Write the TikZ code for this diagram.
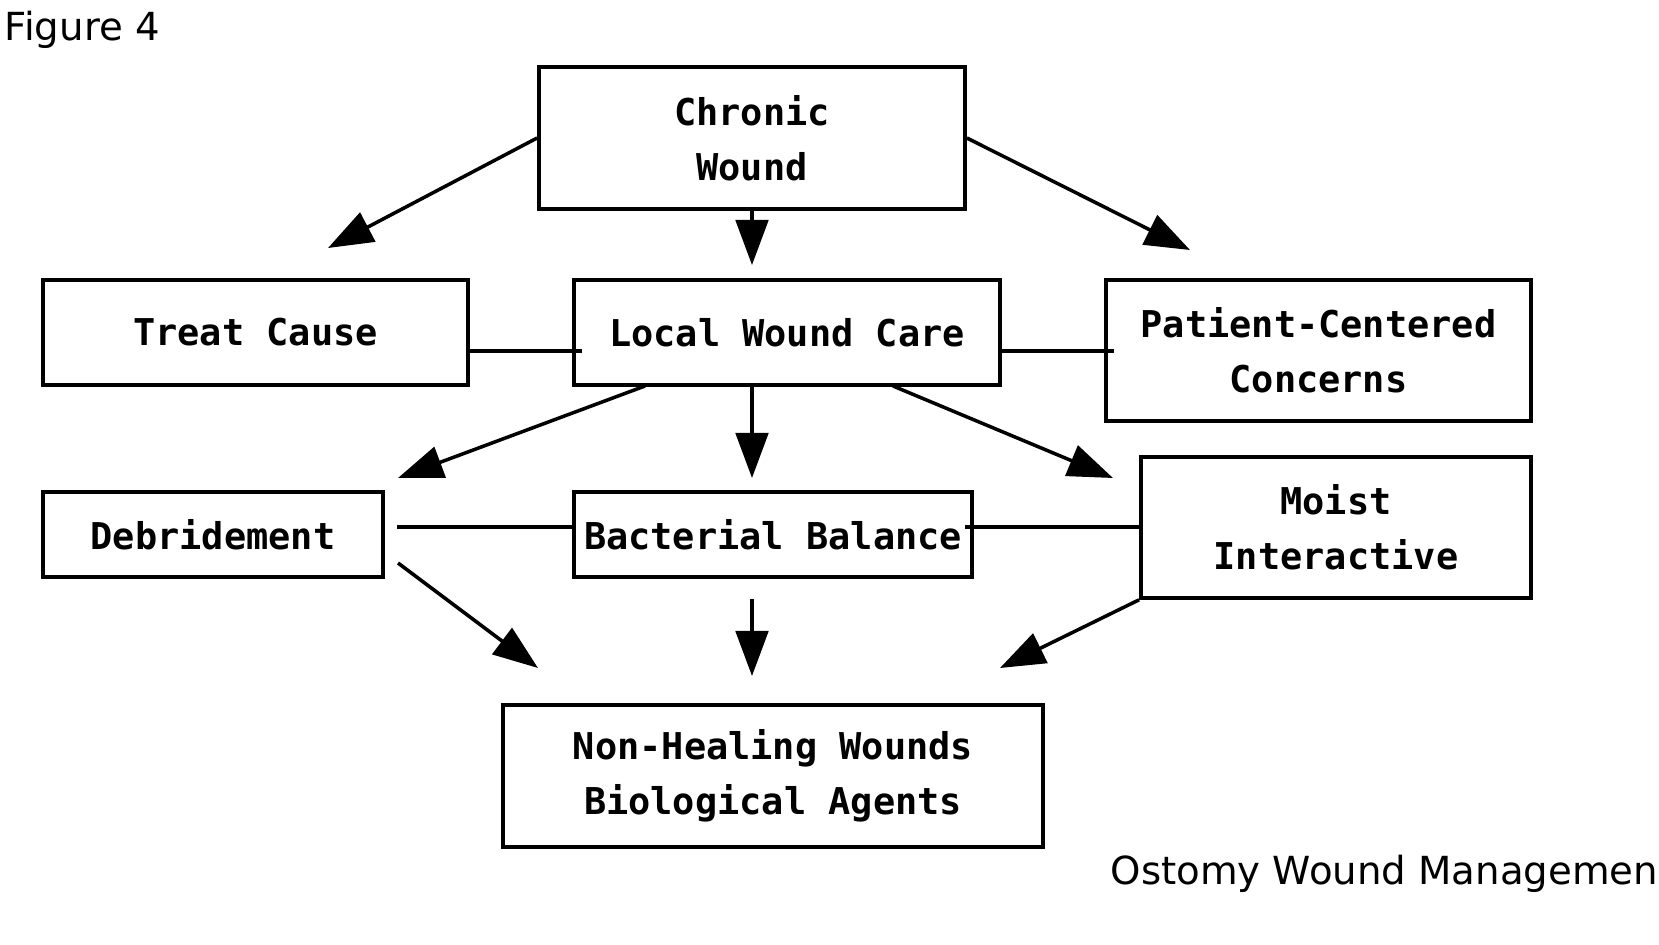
\documentclass[tikz,border=0pt]{standalone}
\usepackage{fontspec}
\setmainfont{DejaVu Sans}
\newfontfamily\boxfont{DejaVu Sans Mono}
\usetikzlibrary{arrows.meta,positioning}

\tikzset{
	box/.style={draw,line width=1pt,align=center,font=\boxfont\bfseries\fontsize{10.5}{15.5}\selectfont,inner sep=0pt},
	arr/.style={line width=1pt,-{Triangle[length=9mm,width=6.5mm,scale=0.5]}},
	link/.style={line width=1pt}
}

\begin{document}
\begin{tikzpicture}[x=0.01cm,y=-0.01cm]
	\useasboundingbox (0,0) rectangle (1659,945);

	% boxes
	\node[box,minimum width=4.26cm,minimum height=1.42cm] (chronic) at (752,138) {Chronic\\Wound};
	\node[box,minimum width=4.25cm,minimum height=1.05cm] (treat) at (255.5,332.5) {Treat Cause};
	\node[box,minimum width=4.26cm,minimum height=1.05cm] (local) at (787,332.5) {Local Wound Care};
	\node[box,minimum width=4.25cm,minimum height=1.41cm] (patient) at (1318.5,350.5) {Patient-Centered\\Concerns};
	\node[box,minimum width=3.40cm,minimum height=0.85cm] (debride) at (213,534.5) {Debridement};
	\node[box,minimum width=3.98cm,minimum height=0.85cm] (bact) at (773,534.5) {Bacterial Balance};
	\node[box,minimum width=3.90cm,minimum height=1.41cm] (moist) at (1336,527.5) {Moist\\Interactive};
	\node[box,minimum width=5.40cm,minimum height=1.42cm] (nonheal) at (773,776) {Non-Healing Wounds\\Biological Agents};

	% arrow tips
	\coordinate (tipA) at (328,248);
	\coordinate (tipB) at (752,265);
	\coordinate (tipC) at (1190,250);
	\coordinate (tipD) at (398,478);
	\coordinate (tipE) at (752,478);
	\coordinate (tipF) at (1113,478);
	\coordinate (tipG) at (538,668);
	\coordinate (tipH) at (752,676);
	\coordinate (tipI) at (1000,668);
	\coordinate (startD) at (645,386);
	\coordinate (startE) at (752,386);
	\coordinate (startF) at (893,386);
	\coordinate (startG) at (398,563);
	\coordinate (startH) at (752,599);

	\draw[arr] (chronic.west) -- (tipA);
	\draw[arr] (chronic.south) -- (tipB);
	\draw[arr] (chronic.east) -- (tipC);

	\draw[link] (treat.east |- 0,351) -- (582,351);
	\draw[link] (local.east |- 0,351) -- (1114,351);

	\draw[arr] (startD) -- (tipD);
	\draw[arr] (startE) -- (tipE);
	\draw[arr] (startF) -- (tipF);

	\draw[link] (397,527) -- (bact.west |- 0,527);
	\draw[link] (965,527) -- (moist.west |- 0,527);

	\draw[arr] (startG) -- (tipG);
	\draw[arr] (startH) -- (tipH);
	\draw[arr] (moist.south west) -- (tipI);

	% captions
	\node[anchor=west,font=\fontsize{11}{13}\selectfont,inner sep=0pt] (fig) at (4,30) {Figure 4};
	\node[anchor=west,font=\fontsize{11}{13}\selectfont,inner sep=0pt] (source) at (1110,874) {Ostomy Wound Management; 2004};
\end{tikzpicture}
\end{document}
